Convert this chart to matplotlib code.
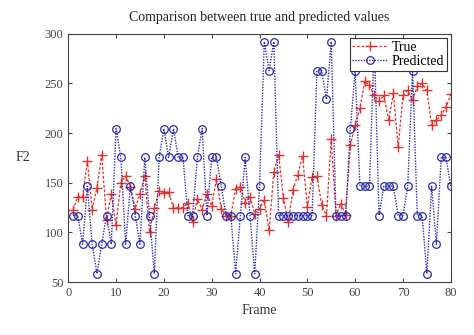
import matplotlib
matplotlib.use("Agg")
import matplotlib.pyplot as plt

frames = list(range(1, 81))

true_vals = [123, 136, 136, 172, 123, 145, 178, 113, 139, 107,
             150, 157, 146, 124, 139, 157, 100, 125, 142, 140,
             141, 125, 125, 125, 130, 111, 134, 123, 139, 127,
             154, 124, 117, 117, 144, 146, 130, 136, 119, 124,
             133, 102, 161, 178, 135, 110, 143, 158, 177, 126,
             156, 157, 128, 117, 194, 117, 129, 118, 188, 208,
             225, 252, 248, 238, 232, 238, 213, 240, 186, 238,
             243, 233, 247, 250, 243, 208, 213, 218, 226, 239]

pred_vals = [117, 117, 88, 146.5, 88, 58.5, 88, 117, 88, 204.5,
             175.5, 88, 146.5, 117, 88, 175.5, 117, 58.5, 175.5, 204.5,
             175.5, 204.5, 175.5, 175.5, 117, 117, 175.5, 204.5, 117, 175.5,
             175.5, 146.5, 117, 117, 58.5, 117, 175.5, 117, 58.5, 146.5,
             292, 263, 292, 117, 117, 117, 117, 117, 117, 117,
             117, 263, 263, 234, 292, 117, 117, 117, 204.5, 263,
             146.5, 146.5, 146.5, 292, 117, 146.5, 146.5, 146.5, 117, 117,
             146.5, 263, 117, 117, 58.5, 146.5, 88, 175.5, 175.5, 146.5]

x_ticks = [0, 10, 20, 30, 40, 50, 60, 70, 80]
y_ticks = [50, 100, 150, 200, 250, 300]

plt.rcParams['font.family'] = ['Liberation Serif', 'DejaVu Serif']

fig = plt.figure(figsize=(4.74, 3.35), dpi=100)
ax = fig.add_axes([0.144, 0.158, 0.807, 0.741])

ax.plot(frames, true_vals, color='#e0302a', linestyle=(0, (2.2, 1.4)), linewidth=0.9,
        marker='+', markersize=7, markeredgewidth=1.0, label='True')
ax.plot(frames, pred_vals, color='#2b2bb0', linestyle=(0, (1.0, 1.0)), linewidth=1.0,
        marker='o', markersize=5.5, markerfacecolor='none', markeredgewidth=0.9,
        label='Predicted')

ax.set_xlim(0, 80)
ax.set_ylim(50, 300)
ax.set_xticks(x_ticks)
ax.set_yticks(y_ticks)
ax.tick_params(direction='in', top=True, right=True, labelsize=9, length=3,
               width=0.8, colors='#444444', labelcolor='#444444')
for s in ax.spines.values():
    s.set_color('#444444')
    s.set_linewidth(0.8)

ax.set_title('Comparison between true and predicted values', fontsize=10,
             color='#222222', pad=9)
ax.set_xlabel('Frame', fontsize=10, color='#333333', labelpad=4)
ax.set_ylabel('F2', fontsize=10, color='#333333', rotation=0, labelpad=16, va='center')

leg = ax.legend(loc='upper right', fontsize=10, frameon=True, fancybox=False,
                framealpha=1, edgecolor='#333333', borderpad=0.2,
                handlelength=2.5, handletextpad=0.3, labelspacing=0.1,
                borderaxespad=0.3)
leg.get_frame().set_linewidth(0.8)

fig.savefig('out.png', dpi=100)
